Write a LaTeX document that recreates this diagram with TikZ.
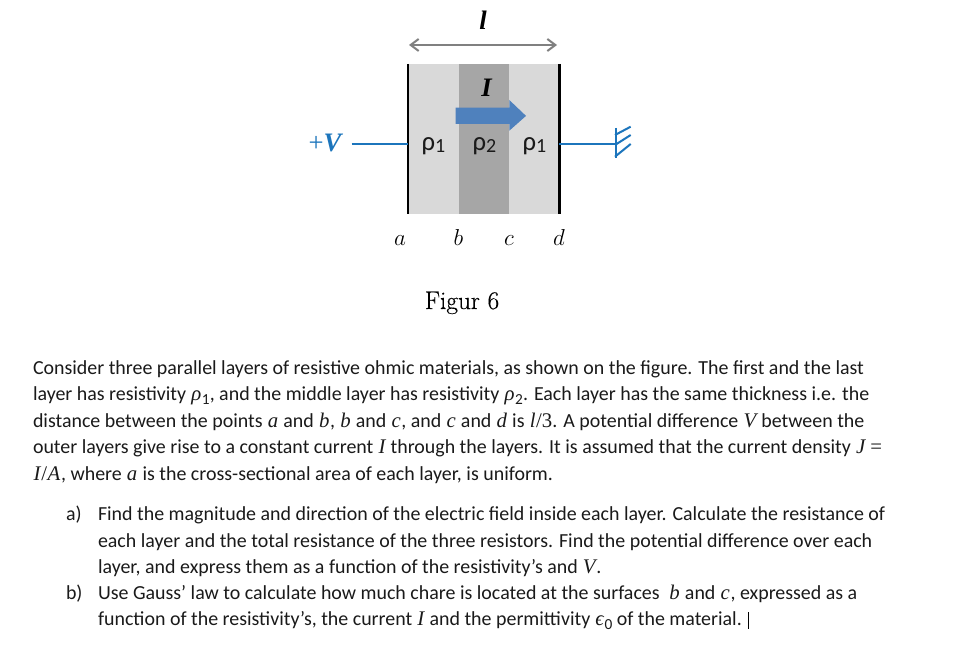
\documentclass[tikz,border=0pt]{standalone}
\usepackage{fontspec}
\usetikzlibrary{arrows.meta}
\setmainfont{Carlito}
\newfontfamily\mathserif{Liberation Serif}
\newcommand{\mi}[1]{{\kern0.5pt\mathserif\itshape\fontsize{15.6}{16}\selectfont #1\kern0.5pt}}
\newcommand{\mup}[1]{{\mathserif\fontsize{15.6}{16}\selectfont #1}}
\newcommand{\lowsub}[1]{\raisebox{-3pt}{\fontsize{11.5}{12}\selectfont #1}}
\newcommand{\rholab}[1]{{\fontsize{20}{21}\selectfont ρ\raisebox{-1pt}{\fontsize{15}{16}\selectfont #1}}}
\definecolor{wireblue}{HTML}{1C75BC}
\definecolor{arrowblue}{HTML}{4F81BD}
\definecolor{lightlayer}{HTML}{D9D9D9}
\definecolor{darklayer}{HTML}{A6A6A6}
\definecolor{dimgrey}{HTML}{808080}
\definecolor{inktext}{HTML}{1A1A1A}
\tikzset{
  textline/.style={anchor=base west,inner sep=0pt,outer sep=0pt,font=\fontsize{14.95}{17}\selectfont,text=inktext},
  layerbox/.style={anchor=north west,inner sep=0pt,outer sep=0pt,minimum height=112.5pt},
  plate/.style={line width=2pt,black},
  wire/.style={line width=1.5pt,wireblue},
  figlabel/.style={anchor=base,inner sep=0pt,outer sep=0pt,text=black},
}
\begin{document}
\begin{tikzpicture}[x=0.75pt,y=-0.75pt]
\useasboundingbox (0,0) rectangle (958,649);
\fill[white] (0,0) rectangle (958,649);
% layers
\node[layerbox,fill=lightlayer,minimum width=38.25pt] (layerA) at (408,64) {};
\node[layerbox,fill=darklayer,minimum width=37.5pt] (layerB) at (459.3,64) {};
\node[layerbox,fill=lightlayer,minimum width=37.5pt] (layerC) at (509.3,64) {};
% plates
\draw[plate] (layerA.north west) -- (layerA.south west);
\draw[plate] (layerC.north east) -- (layerC.south east);
% current arrow
\fill[arrowblue] (455.7,107.7) -- (509.3,107.7) -- (509.3,100) -- (526,115.9) -- (509.3,130.7) -- (509.3,124) -- (455.7,124) -- cycle;
% dimension arrow
\coordinate (dimL) at (409,45);
\coordinate (dimR) at (557,45);
\draw[dimgrey,line width=1.5pt,{Straight Barb[length=6pt,width=9pt]}-{Straight Barb[length=6pt,width=9pt]}] (dimL) -- (dimR);
\node[figlabel,font=\mathserif\bfseries\itshape\fontsize{20}{21}\selectfont] (labL) at (483,30) {l};
\node[figlabel,font=\mathserif\bfseries\itshape\fontsize{20}{21}\selectfont] (labI) at (486.5,96.5) {I};
% rho labels
\node[figlabel,text=inktext] (rhoA) at (433.5,151) {\rholab{1}};
\node[figlabel,text=inktext] (rhoB) at (484.5,151) {\rholab{2}};
\node[figlabel,text=inktext] (rhoC) at (534.5,151) {\rholab{1}};
% wires
\node[figlabel,text=wireblue,font=\mathserif\fontsize{20}{21}\selectfont] (plusV) at (326,151.5) {+\textbf{\textit{V}}};
\coordinate (wireL) at (351.7,144.3);
\coordinate (wireLend) at (408,144.3);
\coordinate (wireR) at (559,144.3);
\coordinate (gnd) at (616,144.3);
\draw[wire] (wireL) -- (wireLend);
\draw[wire] (wireR) -- (gnd);
% ground
\draw[wire] (616,128) -- (616,158);
\draw[wire] (615,135) -- (630.7,126.7);
\draw[wire] (615,145) -- (630.7,135);
\draw[wire] (615,156.7) -- (630.7,144);
% point labels
\node[figlabel,font=\fontsize{19}{20}\selectfont] (ptA) at (400,246) {$a$};
\node[figlabel,font=\fontsize{19}{20}\selectfont] (ptB) at (458.5,246) {$b$};
\node[figlabel,font=\fontsize{17}{18}\selectfont] (ptC) at (509,246) {$c$};
\node[figlabel,font=\fontsize{19}{20}\selectfont] (ptD) at (559,246) {$d$};
\node[figlabel,font=\fontsize{19}{20}\selectfont\rmfamily] (figcap) at (462,309) {\fontspec{Latin Modern Roman}[FakeBold=0.3]Figur 6};
% paragraph
\node[textline] (p1) at (33,374) {Consider three parallel layers of resistive ohmic materials, as shown on the figure. The first and the last};
\node[textline] (p2) at (33,401) {layer has resistivity \mi{ρ}\lowsub{1}, and the middle layer has resistivity \mi{ρ}\lowsub{2}. Each layer has the same thickness i.e. the};
\node[textline] (p3) at (33,427.5) {distance between the points \mi{a} and \mi{b}, \mi{b} and \mi{c}, and \mi{c} and \mi{d} is \mi{l}\mup{/3}. A potential difference \mi{V} between the};
\node[textline] (p4) at (33,453.5) {outer layers give rise to a constant current \mi{I} through the layers. It is assumed that the current density \mi{J} \mup{=}};
\node[textline] (p5) at (33,480) {\mi{I}\mup{/}\mi{A}, where \mi{a} is the cross-sectional area of each layer, is uniform.};
% questions
\node[textline] (qa) at (66,520) {a)};
\node[textline] (qa1) at (98,520) {Find the magnitude and direction of the electric field inside each layer. Calculate the resistance of};
\node[textline] (qa2) at (98,547) {each layer and the total resistance of the three resistors. Find the potential difference over each};
\node[textline] (qa3) at (98,573) {layer, and express them as a function of the resistivity’s and \mi{V}.};
\node[textline] (qb) at (66,599) {b)};
\node[textline] (qb1) at (98,599) {Use Gauss’ law to calculate how much chare is located at the surfaces\ \ \mi{b} and \mi{c}, expressed as a};
\node[textline] (qb2) at (98,625) {function of the resistivity’s, the current \mi{I} and the permittivity \mi{ϵ}\lowsub{0} of the material.};
% text cursor
\draw[black,line width=0.75pt] (748,612) -- (748,629);
\end{tikzpicture}
\end{document}
